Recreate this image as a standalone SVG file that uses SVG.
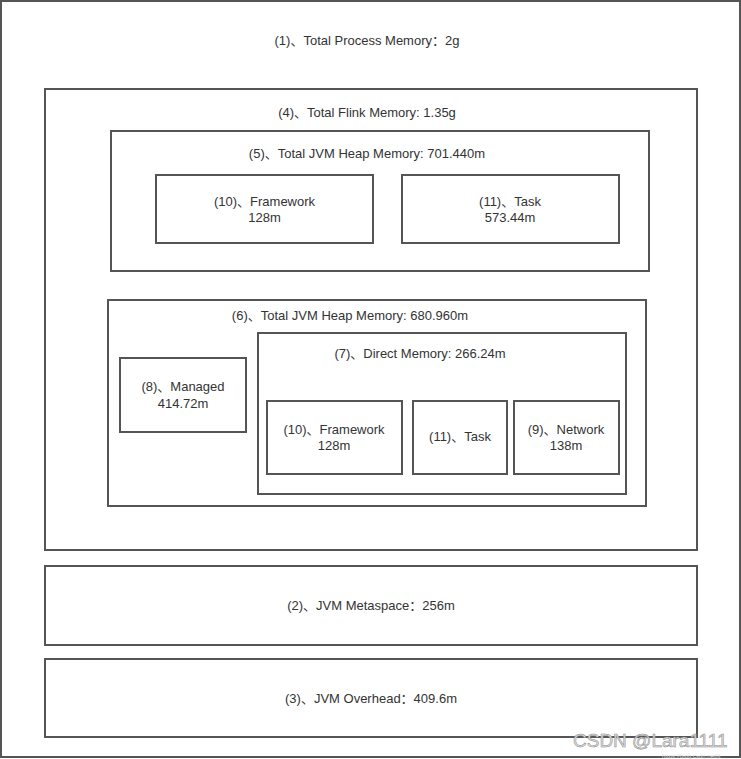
<svg xmlns="http://www.w3.org/2000/svg" width="741" height="759" viewBox="0 0 741 759">
<style>
rect.b{fill:none;stroke:#555;stroke-width:2}
text{font-family:"Liberation Sans","Noto Sans CJK SC",Arial,sans-serif;font-size:13px;fill:#333;text-anchor:middle}
text.wm{font-size:19px;fill:#e0e0e0;stroke:#888;stroke-width:0.5;text-anchor:start}
text.url{font-size:6px;fill:#ddd;text-anchor:start}
</style>
<rect width="741" height="759" fill="#fff"/>
<g id="n1"><rect class="b" x="1" y="1" width="739" height="756"/><text x="367" y="45">(1)、Total Process Memory：2g</text></g>
<g id="n4"><rect class="b" x="45" y="89" width="652" height="461"/><text x="367" y="117">(4)、Total Flink Memory: 1.35g</text></g>
<g id="n5"><rect class="b" x="111" y="131" width="538" height="140"/><text x="367" y="158">(5)、Total JVM Heap Memory: 701.440m</text></g>
<g id="n10a"><rect class="b" x="156" y="175" width="217" height="68"/><text x="264.5" y="206">(10)、Framework</text><text x="264.5" y="222">128m</text></g>
<g id="n11a"><rect class="b" x="402" y="175" width="217" height="68"/><text x="510" y="206">(11)、Task</text><text x="510" y="222">573.44m</text></g>
<g id="n6"><rect class="b" x="108" y="300" width="538" height="206"/><text x="350" y="320">(6)、Total JVM Heap Memory: 680.960m</text></g>
<g id="n8"><rect class="b" x="120" y="358" width="126" height="74"/><text x="183" y="391">(8)、Managed</text><text x="183" y="408">414.72m</text></g>
<g id="n7"><rect class="b" x="258" y="333" width="368" height="161"/><text x="420" y="358">(7)、Direct Memory: 266.24m</text></g>
<g id="n10b"><rect class="b" x="267" y="401" width="135" height="73"/><text x="334" y="434">(10)、Framework</text><text x="334" y="450">128m</text></g>
<g id="n11b"><rect class="b" x="413" y="401" width="94" height="73"/><text x="460" y="441">(11)、Task</text></g>
<g id="n9"><rect class="b" x="514" y="401" width="105" height="73"/><text x="566" y="434">(9)、Network</text><text x="566" y="450">138m</text></g>
<g id="n2"><rect class="b" x="45" y="566" width="652" height="79"/><text x="371" y="610">(2)、JVM Metaspace：256m</text></g>
<g id="n3"><rect class="b" x="45" y="659" width="652" height="78"/><text x="371" y="703">(3)、JVM Overhead：409.6m</text></g>
<g id="connectors"></g>
<text class="wm" x="573" y="747">CSDN @Lara1111</text>
<text class="url" x="662" y="758">https://blog.csdn.net/lt</text>
</svg>
